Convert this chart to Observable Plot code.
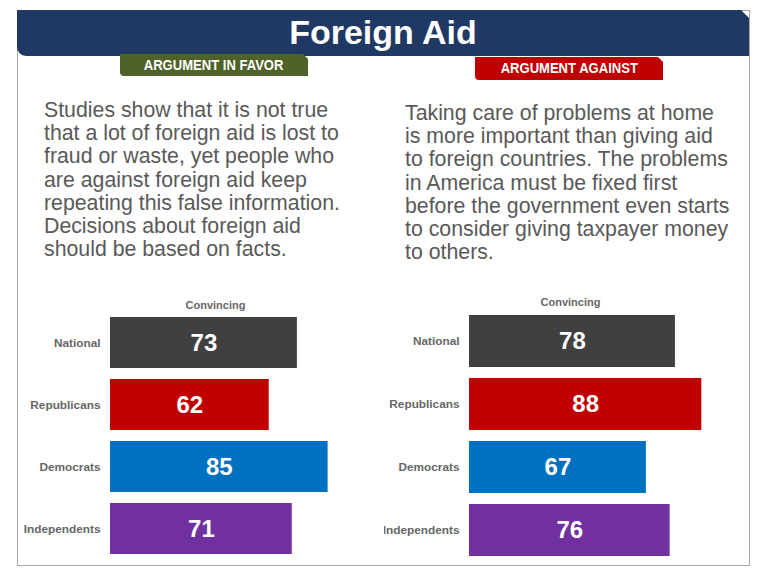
<!DOCTYPE html>
<html>
<head>
<meta charset="utf-8">
<script src="https://cdn.jsdelivr.net/npm/d3@7"></script>
<script src="https://cdn.jsdelivr.net/npm/@observablehq/plot@0.6"></script>
<style>
  html, body { margin: 0; padding: 0; background: #fff; }
  #slide { position: relative; width: 768px; height: 576px; background: #fff; overflow: hidden;
           font-family: "Liberation Sans", Arial, sans-serif; }
  #frame { position: absolute; left: 17px; top: 10px; width: 731px; height: 554px; border: 1px solid #A6A6A6; box-sizing: content-box; }
  #banner { position: absolute; left: 17px; top: 10px; width: 732px; height: 46px; background: #1F3864;
            border-bottom-left-radius: 9px;
            clip-path: polygon(0 0, calc(100% - 8px) 0, 100% 8px, 100% 100%, 0 100%); }
  #banner h1 { margin: 0; color: #fff; font-size: 34px; font-weight: bold; text-align: center; line-height: 44px; }
  .tag { position: absolute; height: 22px; color: #fff; font-family: "Liberation Sans", Arial, sans-serif;
         font-weight: bold; font-size: 14.5px; line-height: 23px; text-align: center; border-bottom-left-radius: 4px;
         clip-path: polygon(0 0, calc(100% - 5px) 0, 100% 5px, 100% 100%, 0 100%); }
  .tag span { display: inline-block; transform: scaleX(0.9); transform-origin: center; }
  #tagFavor { left: 120px; top: 54px; width: 188px; background: #4F6228; }
  #tagAgainst { left: 475px; top: 57px; width: 188px; height: 23px; background: #C00000; }
  .para { position: absolute; font-size: 21.3px; line-height: 23.2px; color: #595959; white-space: nowrap; }
  #paraFavor { left: 44px; top: 99px; }
  #paraAgainst { left: 405px; top: 102px; }
  .chart { position: absolute; top: 290px; }
  #chartFavor { left: 0px; }
  #chartAgainst { left: 384px; }
</style>
</head>
<body>
<div id="slide">
  <div id="frame"></div>
  <div id="banner"><h1 id="title"></h1></div>
  <div class="tag" id="tagFavor"><span></span></div>
  <div class="tag" id="tagAgainst"><span></span></div>
  <div class="para" id="paraFavor"></div>
  <div class="para" id="paraAgainst"></div>
  <div class="chart" id="chartFavor"></div>
  <div class="chart" id="chartAgainst"></div>
</div>
<script>
const titleText = "Foreign Aid";
const tagFavorText = "ARGUMENT IN FAVOR";
const tagAgainstText = "ARGUMENT AGAINST";
const favorLines = [
  "Studies show that it is not true",
  "that a lot of foreign aid is lost to",
  "fraud or waste, yet people who",
  "are against foreign aid keep",
  "repeating this false information.",
  "Decisions about foreign aid",
  "should be based on facts."
];
const againstLines = [
  "Taking care of problems at home",
  "is more important than giving aid",
  "to foreign countries. The problems",
  "in America must be fixed first",
  "before the government even starts",
  "to consider giving taxpayer money",
  "to others."
];
const groups = ["National", "Republicans", "Democrats", "Independents"];
const favorValues = [73, 62, 85, 71];
const againstValues = [78, 88, 67, 76];
const groupColors = ["#404040", "#C00000", "#0070C0", "#7030A0"];
const columnLabel = "Convincing";

document.getElementById("title").textContent = titleText;
document.querySelector("#tagFavor span").textContent = tagFavorText;
document.querySelector("#tagAgainst span").textContent = tagAgainstText;
function fillLines(id, lines) {
  const el = document.getElementById(id);
  lines.forEach((l, i) => {
    if (i) el.appendChild(document.createElement("br"));
    el.appendChild(document.createTextNode(l));
  });
}
fillLines("paraFavor", favorLines);
fillLines("paraAgainst", againstLines);

function makeChart(values, opts) {
  const data = groups.map((g, i) => ({group: g, value: values[i]}));
  return Plot.plot({
    width: 384,
    height: 280,
    marginLeft: opts.marginLeft,
    marginRight: opts.marginRight,
    marginTop: opts.marginTop,
    marginBottom: opts.marginBottom,
    style: {fontFamily: "'Liberation Sans', Arial, sans-serif", color: "#595959", background: "transparent"},
    x: {domain: [0, 100], axis: null},
    y: {domain: groups, padding: opts.padding, axis: null},
    color: {domain: groups, range: groupColors},
    marks: [
      Plot.barX(data, {x: "value", y: "group", fill: "group"}),
      Plot.text(data, {x: d => d.value / 2, y: "group", text: d => String(d.value),
        fill: "white", fontSize: 24, fontWeight: "bold"}),
      Plot.axisY({tickSize: 0, tickPadding: 10, fontSize: 11.8, fontWeight: "bold", label: null, fill: "#666666"}),
      Plot.text([columnLabel], {frameAnchor: "top-left", dx: opts.labelDx, dy: opts.labelDy,
        text: d => d, textAnchor: "middle", lineAnchor: "middle", fontSize: 11, fontWeight: "bold", fill: "#666666"})
    ]
  });
}

document.getElementById("chartFavor").appendChild(makeChart(favorValues,
  {marginLeft: 110, marginRight: 18, marginTop: 16, marginBottom: 4, padding: 0.17, labelDx: 105, labelDy: -1}));
document.getElementById("chartAgainst").appendChild(makeChart(againstValues,
  {marginLeft: 85, marginRight: 35, marginTop: 13, marginBottom: 3, padding: 0.18, labelDx: 101, labelDy: -1}));
</script>
</body>
</html>
